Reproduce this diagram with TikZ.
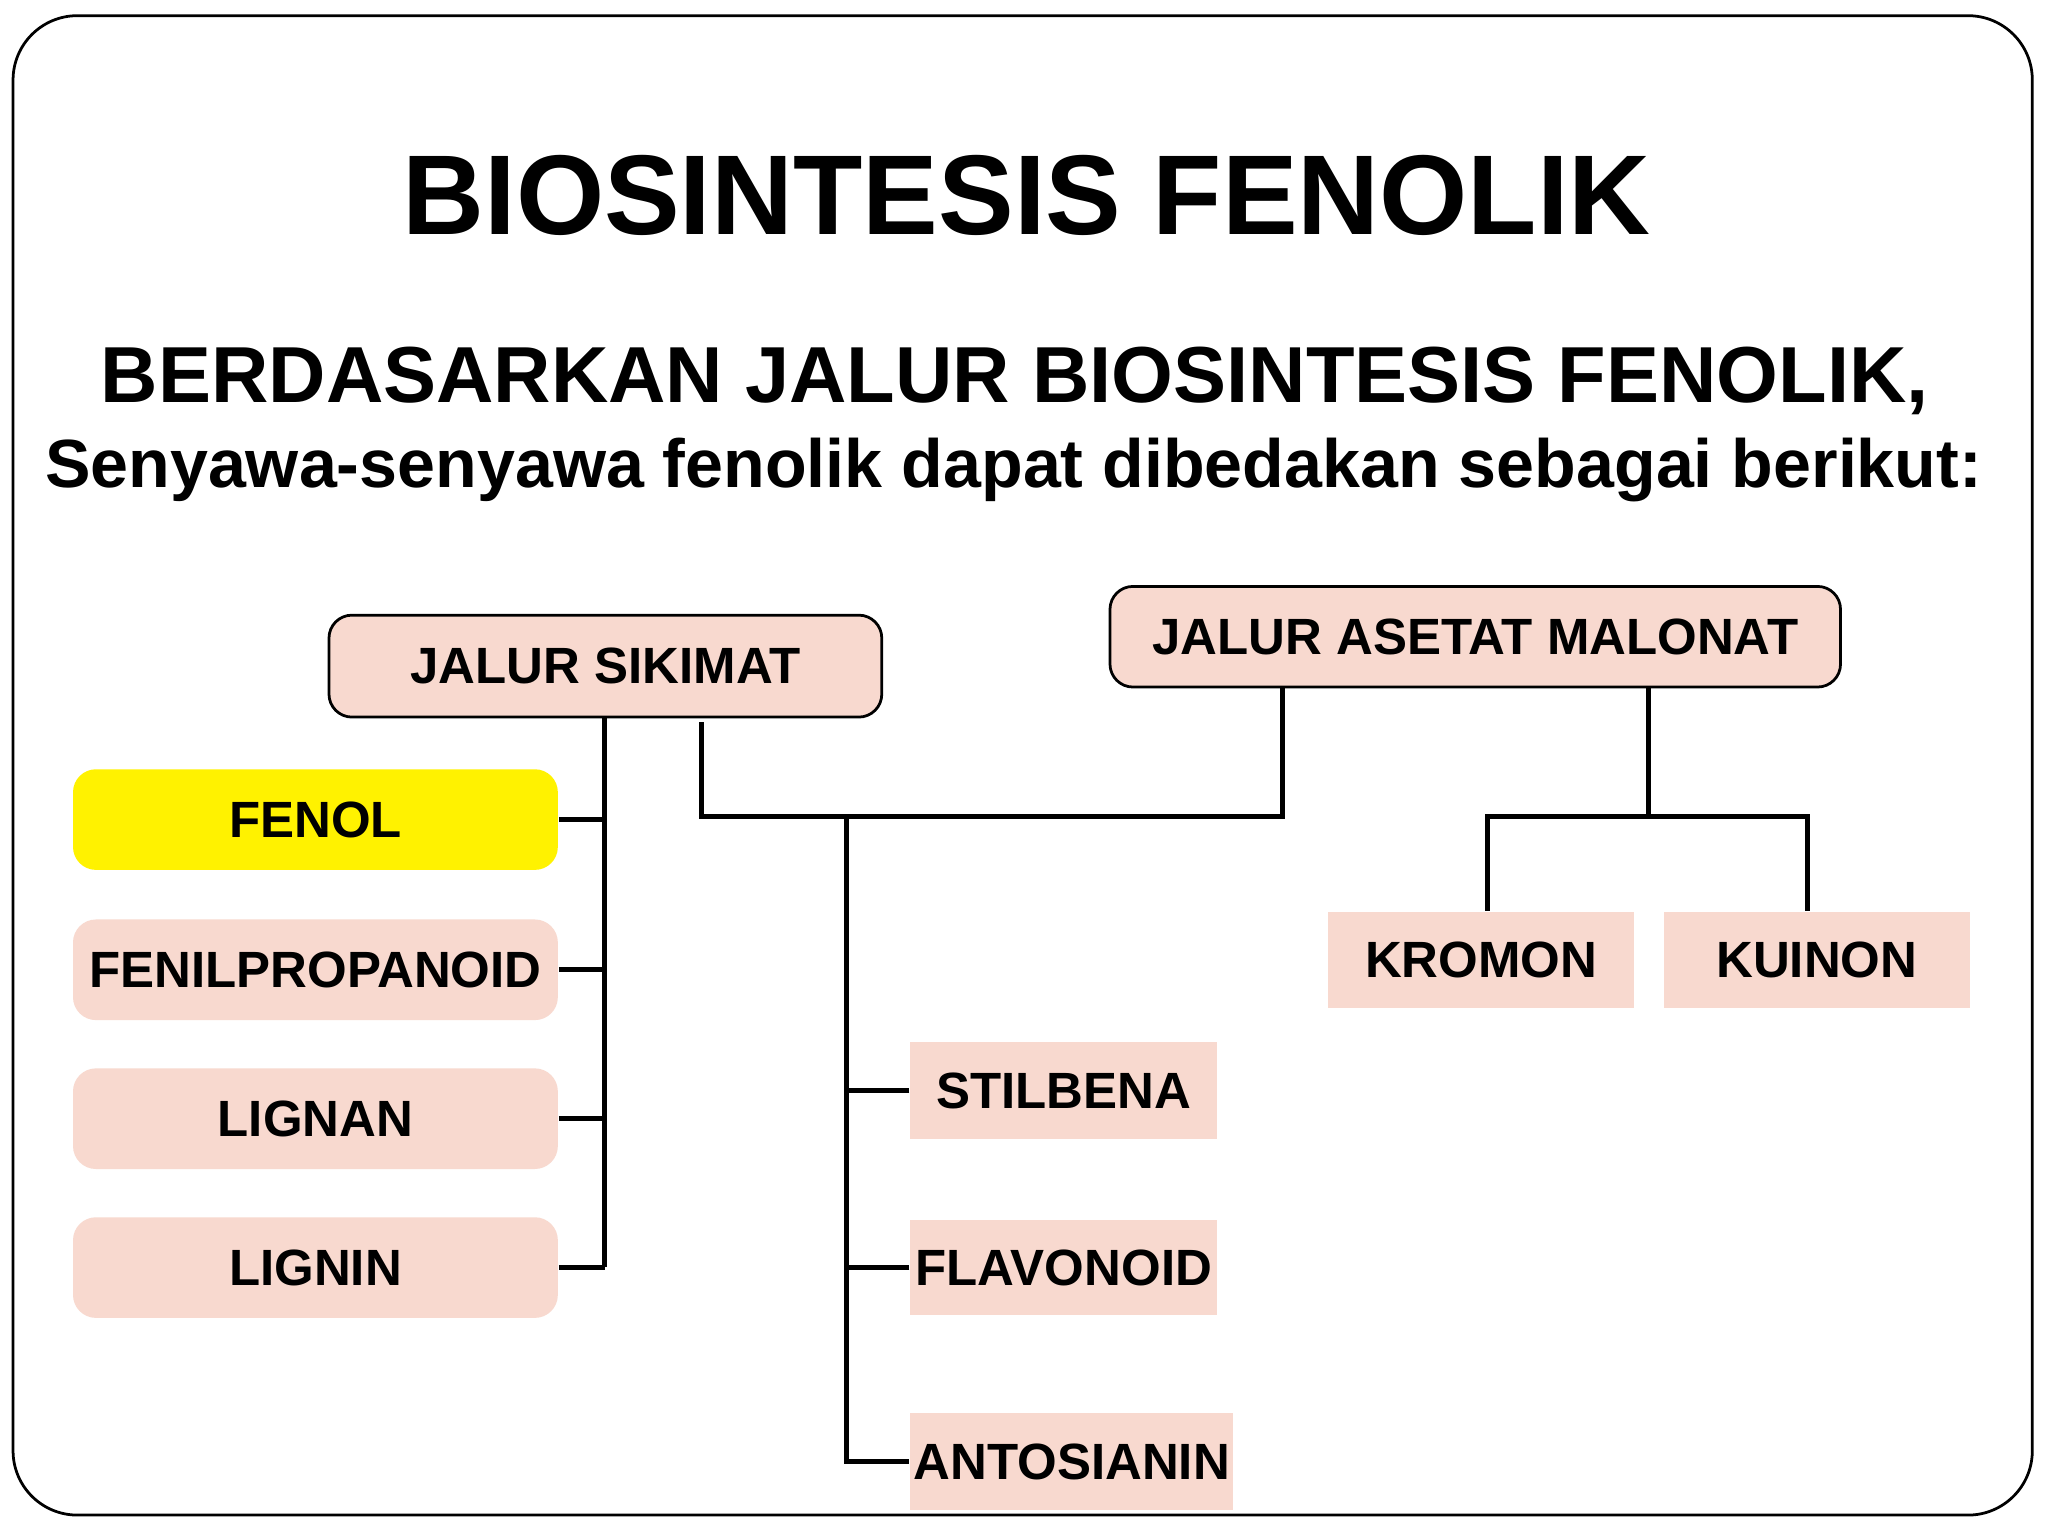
\documentclass[tikz,border=0pt]{standalone}
\usepackage{fontspec}
\setmainfont{Liberation Sans}
\begin{document}
\begin{tikzpicture}[x=0.01cm,y=-0.01cm,
  lbl/.style={font=\bfseries\fontsize{11.1pt}{13pt}\selectfont, inner sep=0pt},
  pinkbox/.style={lbl, fill=pink1, rounded corners=5pt},
  sqbox/.style={lbl, fill=pink1},
  conn/.style={line width=1.1pt}]
\definecolor{pink1}{HTML}{F8D9CF}
\useasboundingbox (0,0) rectangle (1568,1176);
\fill[white] (0,0) rectangle (1568,1176);
\draw[line width=0.6pt, rounded corners=14pt] (10,12) rectangle (1556,1160);
\node[font=\bfseries\fontsize{24.7pt}{28pt}\selectfont] (title) at (786,150) {BIOSINTESIS FENOLIK};
\node[font=\bfseries\fontsize{17.3pt}{20pt}\selectfont] (sub1) at (777,292) {BERDASARKAN JALUR BIOSINTESIS FENOLIK,};
\node[font=\bfseries\fontsize{14.85pt}{17pt}\selectfont] (sub2) at (776,360) {Senyawa-senyawa fenolik dapat dibedakan sebagai berikut:};
\node[pinkbox, draw=black, line width=0.6pt, minimum width=4.23cm, minimum height=0.78cm] (sik) at (463.5,510) {JALUR SIKIMAT};
\node[pinkbox, draw=black, line width=0.6pt, minimum width=5.59cm, minimum height=0.77cm] (ase) at (1129.5,487.5) {JALUR ASETAT MALONAT};
\node[pinkbox, fill=yellow, minimum width=3.71cm, minimum height=0.77cm] (fenol) at (241.5,627.5) {FENOL};
\node[pinkbox, minimum width=3.71cm, minimum height=0.77cm] (fenil) at (241.5,742.5) {FENILPROPANOID};
\node[pinkbox, minimum width=3.71cm, minimum height=0.77cm] (lignan) at (241.5,856.5) {LIGNAN};
\node[pinkbox, minimum width=3.71cm, minimum height=0.77cm] (lignin) at (241.5,970.5) {LIGNIN};
\node[sqbox, minimum width=2.35cm, minimum height=0.74cm] (stil) at (814.5,835) {STILBENA};
\node[sqbox, minimum width=2.35cm, minimum height=0.73cm] (flav) at (814.5,970.5) {FLAVONOID};
\node[sqbox, minimum width=2.47cm, minimum height=0.74cm] (anto) at (820.5,1119) {ANTOSIANIN};
\node[sqbox, minimum width=2.34cm, minimum height=0.74cm] (krom) at (1134,735) {KROMON};
\node[sqbox, minimum width=2.34cm, minimum height=0.74cm] (kuin) at (1391,735) {KUINON};
\coordinate (sA) at (463,549);
\coordinate (sB) at (463,970);
\draw[conn] (sA) -- (sB);
\draw[conn] (fenol.east) -- (fenol.east -| sA);
\draw[conn] (fenil.east) -- (fenil.east -| sA);
\draw[conn] (lignan.east) -- (lignan.east -| sA);
\draw[conn] (lignin.east) -- (lignin.east -| sA);
\coordinate (m1) at (537,553);
\coordinate (m2) at (537,625);
\coordinate (m3) at (982,625);
\draw[conn] (m1) -- (m2) -- (m3) -- (m3 |- ase.south);
\coordinate (v1) at (648,625);
\draw[conn] (v1) -- (v1 |- anto.west) -- (anto.west);
\draw[conn] (stil.west) -- (stil.west -| v1);
\draw[conn] (flav.west) -- (flav.west -| v1);
\coordinate (k1) at (1262,625);
\coordinate (k2) at (1139,625);
\coordinate (k3) at (1384,625);
\draw[conn] (k1 |- ase.south) -- (k1);
\draw[conn] (k2 |- krom.north) -- (k2) -- (k3) -- (k3 |- kuin.north);
\end{tikzpicture}
\end{document}
